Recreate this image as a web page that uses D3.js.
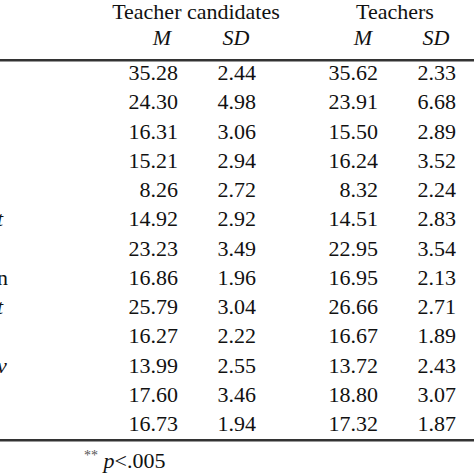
<!DOCTYPE html><html><head><meta charset="utf-8"><script src="https://cdn.jsdelivr.net/npm/d3@7"></script>
<style>body{margin:0;background:#fff}text{font-family:"Liberation Serif","DejaVu Serif",serif;fill:#111}</style></head><body><svg id="c" width="474" height="474"></svg><script>
const groups=["Teacher candidates","Teachers"];
const subHeads=["M","SD","M","SD"];
const candM=[35.28,24.30,16.31,15.21,8.26,14.92,23.23,16.86,25.79,16.27,13.99,17.60,16.73];
const candSD=[2.44,4.98,3.06,2.94,2.72,2.92,3.49,1.96,3.04,2.22,2.55,3.46,1.94];
const teachM=[35.62,23.91,15.50,16.24,8.32,14.51,22.95,16.95,26.66,16.67,13.72,18.80,17.32];
const teachSD=[2.33,6.68,2.89,3.52,2.24,2.83,3.54,2.13,2.71,1.89,2.43,3.07,1.87];
const labelFrags=["","","","","","t","","n","t","","v","",""];
const svg=d3.select("#c");
const y=d3.scaleLinear().domain([0,12]).range([80,431]);
const colX=[178,256,378,456];
svg.selectAll(".g").data(groups).join("text").attr("x",(d,i)=>[196,395][i]).attr("y",19).attr("text-anchor","middle").attr("font-size",22).text(d=>d);
svg.selectAll(".s").data(subHeads).join("text").attr("x",(d,i)=>[162,236,363,436][i]).attr("y",45).attr("text-anchor","middle").attr("font-size",22).attr("font-style","italic").text(d=>d);
svg.append("rect").attr("x",0).attr("y",59).attr("width",474).attr("height",2.5).attr("fill","#333");
svg.append("rect").attr("x",0).attr("y",439).attr("width",474).attr("height",2.5).attr("fill","#333");
[candM,candSD,teachM,teachSD].forEach((arr,c)=>{
 svg.selectAll(".v"+c).data(arr).join("text").attr("x",colX[c]).attr("y",(d,i)=>y(i)).attr("text-anchor","end").attr("font-size",22).text(d=>d.toFixed(2));
});
svg.selectAll(".f").data(labelFrags).join("text").attr("x",-3).attr("y",(d,i)=>y(i)).attr("font-size",22).attr("font-style",(d,i)=>d==="n"?"normal":"italic").attr("fill",d=>d==="n"?"#111":"#888").text(d=>d);
const ft=svg.append("text").attr("x",84).attr("y",468).attr("font-size",22);
ft.append("tspan").attr("font-size",14).attr("fill","#555").attr("dy",-8).text("**");
ft.append("tspan").attr("dy",8).attr("font-style","italic").text(" p");
ft.append("tspan").text("<.005");
</script></body></html>
